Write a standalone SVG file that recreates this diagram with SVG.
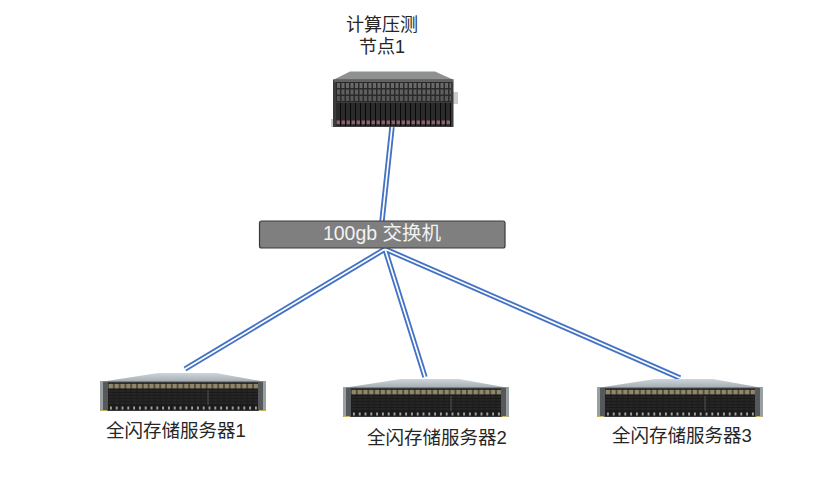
<svg xmlns="http://www.w3.org/2000/svg" width="831" height="485" viewBox="0 0 831 485">
<style>
text{font-family:"Liberation Sans","Noto Sans CJK SC",sans-serif;fill:#262626;font-size:18.500px}
.lo{fill:none;stroke:#4472c4;stroke-width:5.400}
.li{fill:none;stroke:#fff;stroke-width:1.700}
</style>
<defs>
<linearGradient id="roof" x1="0" y1="0" x2="0" y2="1">
<stop offset="0" stop-color="#cfd5da"/>
<stop offset="1" stop-color="#98a2a8"/>
</linearGradient>
<pattern id="bay" width="5.800" height="28" patternUnits="userSpaceOnUse" x="8" y="10">
<rect width="5.800" height="28" fill="#1b1b1b"/>
<rect x=".5" y=".8" width="4.800" height="4.600" fill="#8f8768"/>
<path d="M.5 8h4.800M.5 11h4.800M.5 14h4.800M.5 17h4.800M.5 20h4.800" stroke="#333" stroke-width=".8"/>
<rect x="2" y="23.500" width="1.800" height="3" fill="#a8a8a8"/>
</pattern>
<pattern id="grid" width="9" height="20" patternUnits="userSpaceOnUse" x="336" y="82">
<rect width="9" height="20" fill="#2a2a2a"/>
<rect x="1" y="1" width="3" height="5" fill="#6a6a6a"/>
<rect x="5.500" y="1" width="3" height="5" fill="#6a6a6a"/>
<rect x="1" y="7.500" width="3" height="5" fill="#606060"/>
<rect x="5.500" y="7.500" width="3" height="5" fill="#606060"/>
<rect x="1" y="14" width="3" height="5" fill="#585858"/>
<rect x="5.500" y="14" width="3" height="5" fill="#585858"/>
</pattern>
<pattern id="blade" width="5" height="23" patternUnits="userSpaceOnUse" x="336" y="103">
<rect width="5" height="23" fill="#2b2b2b"/>
<rect x="4" width="1" height="23" fill="#080808"/>
<rect x=".7" y="17.500" width="3.200" height="3.600" fill="#96626a"/>
</pattern>
<symbol id="storage" viewBox="0 0 166 38">
<path d="M0 9 L58 0 H116 L166 9 V11 H0Z" fill="url(#roof)"/>
<rect x="0" y="8.500" width="166" height="29.500" fill="#55595b"/>
<rect x="0" y="9" width="3" height="29" fill="#9a9fa2"/>
<rect x="163" y="9" width="3" height="29" fill="#9a9fa2"/>
<rect x="8" y="9.500" width="150" height="28" fill="url(#bay)"/>
<path d="M1 37.500h6M159 37.500h6" stroke="#c8b35a" stroke-width="1.200"/>
<path d="M108 17V32" stroke="#777" stroke-width=".6"/>
</symbol>
</defs>
<g id="connectors">
<path class="lo" d="M392 127 382 221M385 249 185 369M385 249 425 377M385 249 680 378"/>
<path class="li" d="M392 127 382 221M385 249 185 369M385 249 425 377M385 249 680 378"/>
</g>
<g id="compute-node">
<text x="346" y="31" style="font-size:18px">计算压测</text>
<text x="359" y="53" style="font-size:18px">节点1</text>
<path d="M333 80 350 71.500H435L454 80Z" fill="#8f9191"/>
<rect x="452" y="92" width="6" height="12" fill="#c9cccc"/>
<rect x="331" y="119" width="4" height="8" fill="#c9cccc"/>
<rect x="333" y="79.500" width="120.500" height="47.500" fill="#3a3b3c"/>
<rect x="334" y="80" width="119" height="2" fill="#5f6265"/>
<rect x="336" y="82" width="115" height="20" fill="url(#grid)"/>
<rect x="336" y="103" width="115" height="23" fill="url(#blade)"/>
</g>
<g id="switch">
<rect x="259.500" y="221" width="245.500" height="27" rx="2" fill="#7f7f7f" stroke="#3a3a3a" stroke-width="1.200"/>
<text x="382" y="240" text-anchor="middle" style="fill:#f2f2f2;font-size:19.500px">100gb 交换机</text>
</g>
<g id="storage-1">
<use href="#storage" x="100" y="373" width="166" height="38"/>
<text x="106" y="437">全闪存储服务器1</text>
</g>
<g id="storage-2">
<use href="#storage" x="342" y="379" width="168" height="38"/>
<text x="367" y="444">全闪存储服务器2</text>
</g>
<g id="storage-3">
<use href="#storage" x="597" y="379" width="166" height="38"/>
<text x="612" y="442">全闪存储服务器3</text>
</g>
</svg>
